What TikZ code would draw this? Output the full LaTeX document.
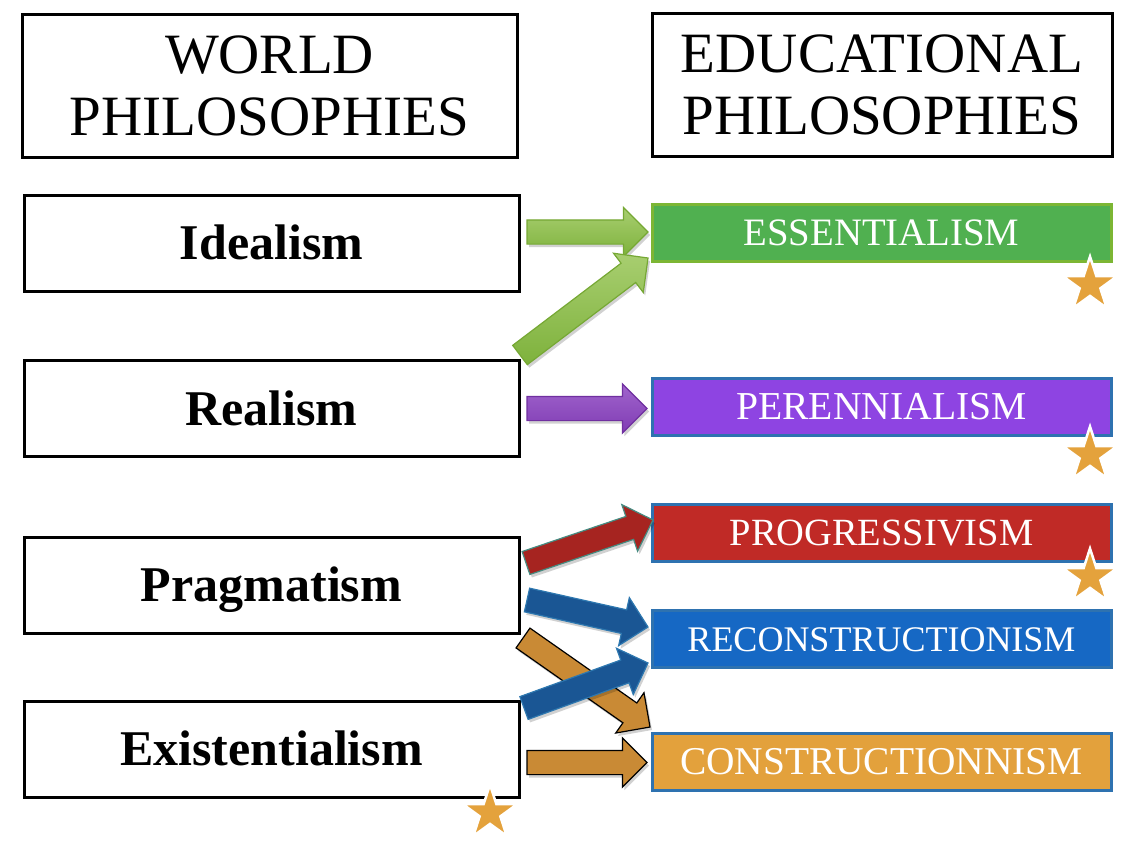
\documentclass[tikz,border=0pt]{standalone}
\usepackage{fontspec}
\setmainfont{Liberation Serif}
\usetikzlibrary{shapes.arrows,shapes.geometric,shadows,calc}
\definecolor{essfill}{RGB}{80,176,80}
\definecolor{essdraw}{RGB}{124,182,52}
\definecolor{perfill}{RGB}{142,68,226}
\definecolor{profill}{RGB}{192,42,38}
\definecolor{recfill}{RGB}{22,104,196}
\definecolor{confill}{RGB}{227,161,60}
\definecolor{bluedraw}{RGB}{46,114,176}
\definecolor{starc}{RGB}{228,162,60}
\definecolor{garrowA}{RGB}{168,206,112}
\definecolor{garrowB}{RGB}{126,178,60}
\definecolor{garrowD}{RGB}{118,168,52}
\definecolor{parrowA}{RGB}{160,100,204}
\definecolor{parrowB}{RGB}{128,60,180}
\definecolor{parrowD}{RGB}{112,48,160}
\definecolor{rarrow}{RGB}{166,36,32}
\definecolor{rarrowD}{RGB}{70,140,130}
\definecolor{barrowF}{RGB}{26,86,148}
\definecolor{barrowD}{RGB}{46,120,176}
\definecolor{oarrow}{RGB}{201,138,53}
\newcommand\blockarrow[5]{%
  \path let \p1=($(#3)-(#2)$), \n1={atan2(\y1,\x1)}, \n2={veclen(\x1,\y1)} in
    node[barrowstyle, #4, #5, rotate=\n1, minimum height=\n2, anchor=tail] (#1) at (#2) {};}
\tikzset{
  hdr/.style={draw=black, line width=3pt, minimum height=142, align=center,
    font=\fontsize{57}{62}\selectfont, inner sep=0pt},
  wbox/.style={draw=black, line width=3pt, minimum width=495, minimum height=96,
    font=\fontsize{50}{60}\selectfont\bfseries, text height=33, text depth=0, inner sep=0pt},
  ebox/.style={line width=3pt, minimum width=459, minimum height=57, text=white,
    text height=25, text depth=0, inner sep=0pt},
  barrowstyle/.style={single arrow, inner sep=0pt, outer sep=0pt, text width=0pt, text height=11.5pt, text depth=11.5pt,
    single arrow head extend=12.5, line width=1.2pt,
    drop shadow={shadow xshift=2pt, shadow yshift=-3pt, opacity=.18, fill=black}},
  starnode/.style={star, star points=5, star point ratio=2.618, minimum size=57,
    inner sep=0pt, fill=starc, draw=white, line width=2.5pt}
}
\begin{document}
\begin{tikzpicture}[x=1pt,y=-1pt]
\useasboundingbox (0,0) rectangle (1137,843);
% headers
\node[hdr, minimum width=495] (wph) at (269.5,86) {WORLD\\PHILOSOPHIES};
\node[hdr, minimum width=460] (eph) at (882,85) {EDUCATIONAL\\PHILOSOPHIES};
% world philosophies
\node[wbox] (ide) at (271.5,243) {Idealism};
\node[wbox] (rea) at (271.5,408.5) {Realism};
\node[wbox] (pra) at (271.5,585) {Pragmatism};
\node[wbox] (exi) at (271.5,749) {Existentialism};
% educational philosophies
\node[ebox, fill=essfill, draw=essdraw, font=\fontsize{38.8}{40}\selectfont] (ess) at (881.5,232.5) {ESSENTIALISM};
\node[ebox, fill=perfill, draw=bluedraw, font=\fontsize{39.6}{40}\selectfont] (per) at (881.5,406.5) {PERENNIALISM};
\node[ebox, fill=profill, draw=bluedraw, font=\fontsize{38.5}{40}\selectfont] (pro) at (881.5,533) {PROGRESSIVISM};
\node[ebox, fill=recfill, draw=bluedraw, font=\fontsize{36}{40}\selectfont] (rec) at (881.5,638.5) {RECONSTRUCTIONISM};
\node[ebox, fill=confill, draw=bluedraw, font=\fontsize{39.4}{40}\selectfont] (con) at (881.5,761.5) {CONSTRUCTIONNISM};
% arrow end points
\coordinate (a1s) at (527,232);   \coordinate (a1e) at (648,232);
\coordinate (a2s) at (520,355);   \coordinate (a2e) at (648,258);
\coordinate (a3s) at (527,408.5); \coordinate (a3e) at (647,408.5);
\coordinate (a4s) at (526,563);   \coordinate (a4e) at (653,520);
\coordinate (a5s) at (527,600);   \coordinate (a5e) at (648,627);
\coordinate (a6s) at (523,638);   \coordinate (a6e) at (650,727);
\coordinate (a7s) at (524,708);   \coordinate (a7e) at (648,663);
\coordinate (a8s) at (527,762.5); \coordinate (a8e) at (647,762.5);
% arrows
\blockarrow{ar1}{a1s}{a1e}{top color=garrowA, bottom color=garrowB}{draw=garrowD}
\blockarrow{ar2}{a2s}{a2e}{top color=garrowA, bottom color=garrowB}{draw=garrowD}
\blockarrow{ar3}{a3s}{a3e}{top color=parrowA, bottom color=parrowB}{draw=parrowD}
\blockarrow{ar4}{a4s}{a4e}{fill=rarrow}{draw=rarrowD}
\blockarrow{ar5}{a5s}{a5e}{fill=barrowF}{draw=barrowD}
\blockarrow{ar6}{a6s}{a6e}{fill=oarrow}{draw=black}
\blockarrow{ar7}{a7s}{a7e}{fill=barrowF}{draw=barrowD}
\blockarrow{ar8}{a8s}{a8e}{fill=oarrow}{draw=black}
% stars
\node[starnode] (st1) at (1090,285) {};
\node[starnode] (st2) at (1090,455) {};
\node[starnode] (st3) at (1090,577) {};
\node[starnode] (st4) at (490,813) {};
\end{tikzpicture}
\end{document}
